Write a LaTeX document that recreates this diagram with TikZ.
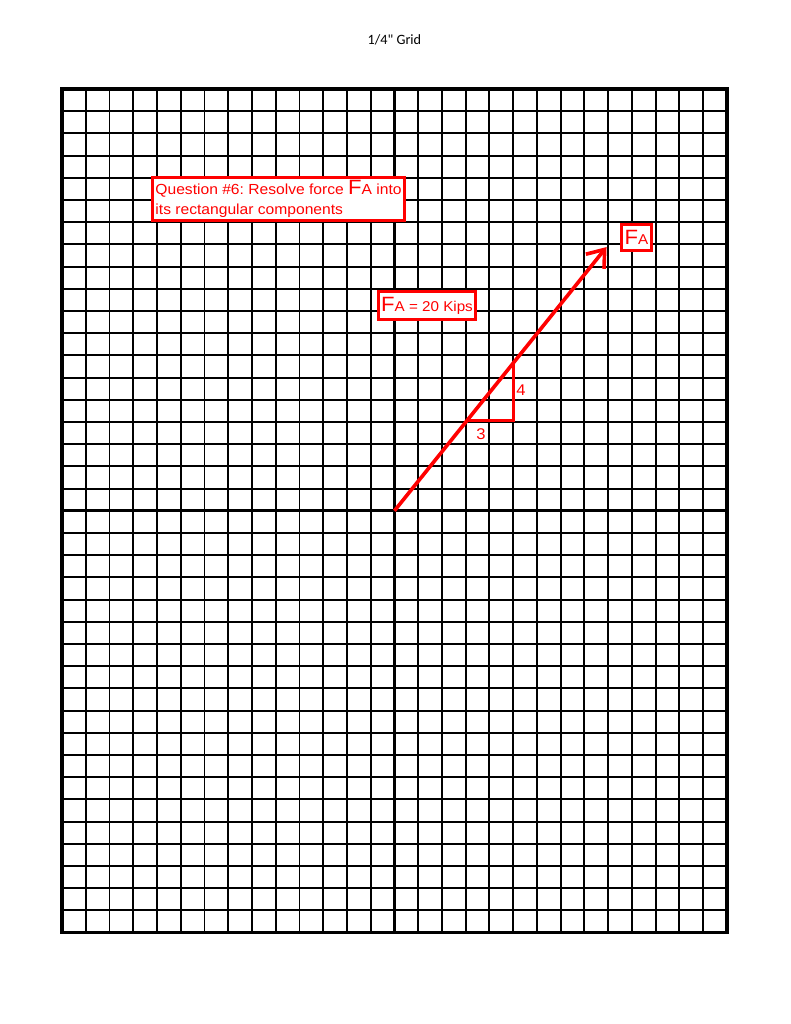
\documentclass[tikz,border=0pt]{standalone}
\usepackage{fontspec}
\setmainfont{Liberation Sans}[FakeStretch=1.07]
\newfontfamily\titlefont{Carlito}
\usetikzlibrary{arrows.meta,calc}
\frenchspacing

\tikzset{
  gridline/.style={line width=1.5pt, black},
  axisline/.style={line width=2.5pt, black},
  frameline/.style={line width=3pt, black},
  force/.style={red, line width=2.8pt, -{Straight Barb[length=12pt,width=18pt]}},
  slope/.style={red, line width=2.3pt},
  redbox/.style={draw=red, line width=2.3pt, text=red, fill=white, inner sep=1pt},
  redtext/.style={text=red, font=\fontsize{12}{14}\selectfont},
}
\newcommand{\bigF}{{\fontsize{16}{16}\selectfont F}}

\begin{document}
\begin{tikzpicture}[x=18.38pt, y=17.18pt]
  \useasboundingbox (-16.61,-23.12) rectangle (16.69,23.01);

  % Titolo
  \node[font=\titlefont\fontsize{11}{13}\selectfont] (title) at (0,21.2) {1/4" Grid};

  % Griglia
  \draw[gridline, step=1] (-14,-19) grid (14,19);
  \draw[axisline] (0,-19) -- (0,19);
  \draw[axisline] (-14,0) -- (14,0);
  \draw[frameline] (-14,-19) rectangle (14,19);

  % Forza F_A
  \coordinate (O) at (0,0);
  \coordinate (Tip) at (8.93,11.88);
  \draw[force] (O) -- (Tip);

  % Triangolo 3-4
  \coordinate (Ta) at ($(O)!0.343!(Tip)$);
  \coordinate (Tc) at ($(O)!0.56!(Tip)$);
  \coordinate (Tb) at (Tc |- Ta);
  \draw[slope] (Ta) -- (Tb) -- (Tc);
  \node[redtext] (run) at (3.64,3.46) {3};
  \node[redtext] (rise) at (5.33,5.43) {4};

  % Testo della domanda
  \node[redbox, inner xsep=2pt, minimum width=192.3pt, minimum height=33.7pt, align=left,
        font=\fontsize{11.3}{15.5}\selectfont] (question) at (-4.88,14.04)
    {Question \#6: Resolve force \bigF A into\\its rectangular components};

  % Modulo
  \node[redbox, minimum width=75.5pt, minimum height=21.4pt,
        font=\fontsize{11}{12}\selectfont] (magnitude) at (1.37,9.25)
    {\bigF A = 20 Kips};

  % Etichetta della forza
  \node[redbox, minimum width=23pt, minimum height=20.6pt,
        font=\fontsize{11}{12}\selectfont] (label) at (10.19,12.31)
    {\bigF A};
\end{tikzpicture}
\end{document}
